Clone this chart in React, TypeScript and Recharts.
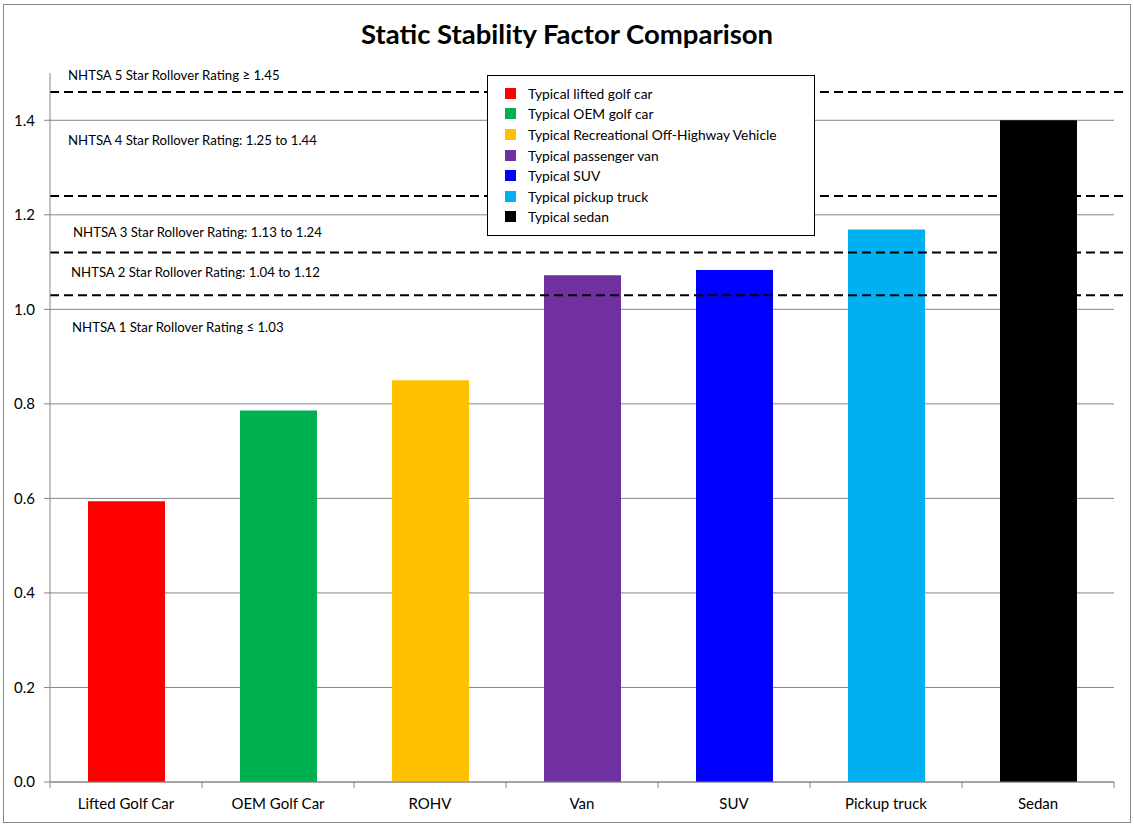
import React from 'react';
import { BarChart, Bar, XAxis, YAxis, CartesianGrid, ReferenceLine, Cell, Legend } from 'recharts';

const categories = ['Lifted Golf Car', 'OEM Golf Car', 'ROHV', 'Van', 'SUV', 'Pickup truck', 'Sedan'];
const ssfValues = [0.594, 0.786, 0.85, 1.072, 1.083, 1.169, 1.4];
const barColors = ['#FF0000', '#00B050', '#FFC000', '#7030A0', '#0000FF', '#00B0F0', '#000000'];
const legendLabels = [
  'Typical lifted golf car',
  'Typical OEM golf car',
  'Typical Recreational Off-Highway Vehicle',
  'Typical passenger van',
  'Typical SUV',
  'Typical pickup truck',
  'Typical sedan',
];
const yTicks = [0, 0.2, 0.4, 0.6, 0.8, 1.0, 1.2, 1.4];
const yDomain = [0, 1.5];
const ratingThresholds = [1.46, 1.24, 1.12, 1.03];
const ratingLabels = [
  'NHTSA 5 Star Rollover Rating \u2265 1.45',
  'NHTSA 4 Star Rollover Rating: 1.25 to 1.44',
  'NHTSA 3 Star Rollover Rating: 1.13 to 1.24',
  'NHTSA 2 Star Rollover Rating: 1.04 to 1.12',
  'NHTSA 1 Star Rollover Rating \u2264 1.03',
];
const ratingLabelAnchors = [1.495, 1.357, 1.164, 1.078, 0.963];
const titleText = 'Static Stability Factor Comparison';

const data = categories.map((c, i) => ({ name: c, ssf: ssfValues[i] }));

const FONT = 'Lato, "Open Sans", sans-serif';
const AXIS_GRAY = '#868686';
const labelOffsets = [18, 18, 23, 21, 22];

const CategoryTick = (props: any) => {
  const { x, y, payload, index, width, visibleTicksCount } = props;
  const half = width && visibleTicksCount ? width / visibleTicksCount / 2 : 76;
  return (
    <g>
      <line x1={x - half} x2={x - half} y1={y - 6} y2={y} stroke={AXIS_GRAY} strokeWidth={1} />
      {index === visibleTicksCount - 1 && (
        <line x1={x + half} x2={x + half} y1={y - 6} y2={y} stroke={AXIS_GRAY} strokeWidth={1} />
      )}
      <text x={x} y={y} dy={20.5} textAnchor="middle" fill="#000" fontFamily={FONT} fontSize={15}>
        {payload.value}
      </text>
    </g>
  );
};

const DashedShape = (props: any) => {
  const { x1, x2, y1, y2 } = props;
  return (
    <line x1={x1} x2={x2 + 9} y1={y1} y2={y2} stroke="#000" strokeWidth={2} strokeDasharray="9 5" />
  );
};

const LegendBox = () => (
  <div
    style={{
      boxSizing: 'border-box',
      width: 328,
      height: 161,
      border: '1px solid #000',
      background: '#fff',
      paddingTop: 7,
      fontFamily: FONT,
      fontSize: 13.8,
    }}
  >
    {legendLabels.map((l, i) => (
      <div key={l} style={{ display: 'flex', alignItems: 'center', height: 20.6 }}>
        <div style={{ width: 11, height: 11, background: barColors[i], marginLeft: 17, marginRight: 12 }} />
        <span style={{ color: '#000', whiteSpace: 'nowrap' }}>{l}</span>
      </div>
    ))}
  </div>
);

export default function App() {
  return (
    <div style={{ position: 'absolute', left: 0, top: 0, width: 1134, height: 826, background: '#fff' }}>
      <div
        style={{
          position: 'absolute',
          left: 3,
          top: 4,
          width: 1128,
          height: 819,
          boxSizing: 'border-box',
          border: `1px solid ${AXIS_GRAY}`,
        }}
      />
      <div
        style={{
          position: 'absolute',
          left: 0,
          top: 16,
          width: 1134,
          textAlign: 'center',
          fontFamily: FONT,
          fontWeight: 700,
          fontSize: 27.5,
          lineHeight: '36px',
          color: '#000',
        }}
      >
        {titleText}
      </div>
      <BarChart
        width={1134}
        height={826}
        data={data}
        margin={{ top: 73, right: 20, bottom: 14, left: 0 }}
        style={{ position: 'absolute', left: 0, top: 0 }}
      >
        <CartesianGrid horizontal vertical={false} horizontalValues={yTicks} stroke={AXIS_GRAY} strokeWidth={1} />
        <XAxis
          dataKey="name"
          height={30}
          interval={0}
          axisLine={{ stroke: AXIS_GRAY }}
          tickLine={false}
          tickSize={6}
          tickMargin={0}
          tick={<CategoryTick />}
        />
        <YAxis
          width={50}
          domain={yDomain}
          ticks={yTicks}
          interval={0}
          allowDataOverflow
          axisLine={{ stroke: AXIS_GRAY }}
          tickLine={{ stroke: AXIS_GRAY }}
          tickSize={6}
          tickMargin={9}
          tick={{ fill: '#000', fontFamily: FONT, fontSize: 15 }}
          tickFormatter={(v: number) => v.toFixed(1)}
        />
        <Bar dataKey="ssf" barSize={77} isAnimationActive={false}>
          {data.map((d, i) => (
            <Cell key={d.name} fill={barColors[i]} />
          ))}
        </Bar>
        {ratingThresholds.map((t) => (
          <ReferenceLine key={`th-${t}`} y={t} ifOverflow="visible" shape={<DashedShape />} />
        ))}
        {ratingLabels.map((l, i) => (
          <ReferenceLine
            key={`lab-${i}`}
            y={ratingLabelAnchors[i]}
            stroke="none"
            label={{
              value: l,
              position: 'insideLeft',
              offset: labelOffsets[i],
              fill: '#000',
              fontFamily: FONT,
              fontSize: 13.2,
            }}
          />
        ))}
        <Legend
          layout="horizontal"
          verticalAlign="middle"
          align="center"
          content={<LegendBox />}
          wrapperStyle={{ left: 487, top: 75, width: 328, height: 161 }}
        />
      </BarChart>
    </div>
  );
}
